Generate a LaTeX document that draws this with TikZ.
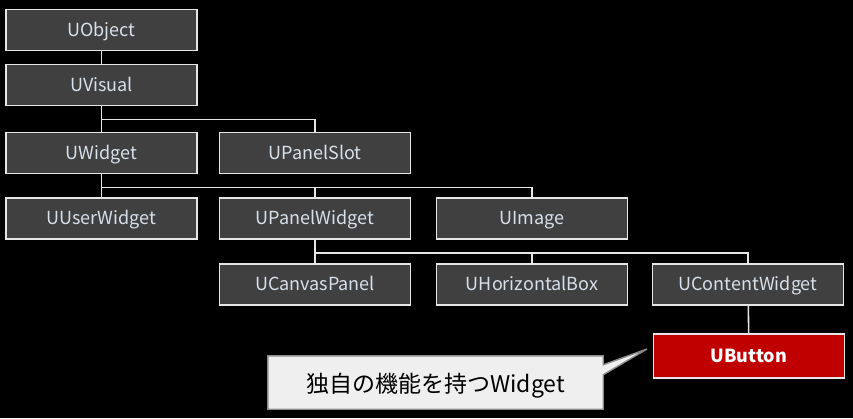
\documentclass[tikz,border=0pt]{standalone}
\usepackage{fontspec}
\setmainfont{Noto Sans CJK JP}
\usetikzlibrary{positioning}
\pgfdeclarelayer{background}
\pgfsetlayers{background,main}
\definecolor{TreeBack}{HTML}{000000}
\definecolor{TreeFill}{HTML}{404040}
\definecolor{TreeEdge}{HTML}{E6E6E6}
\definecolor{TreeText}{HTML}{D8E0EA}
\definecolor{TreeRed}{HTML}{C00000}
\definecolor{NoteFill}{HTML}{EFEFEF}
\definecolor{NoteEdge}{HTML}{8C8C8C}
\tikzset{
  classbox/.style={draw=TreeEdge,fill=TreeFill,line width=1.6pt,
    minimum width=191,minimum height=41,inner sep=0pt,text=TreeText,
    text height=13,text depth=0.3,
    font=\fontsize{18}{21}\selectfont},
  hotbox/.style={classbox,fill=TreeRed,text=white,
    font=\bfseries\fontsize{18}{21}\selectfont},
  link/.style={TreeEdge,line width=1.6pt}
}

\begin{document}
\begin{tikzpicture}[x=1pt,y=-1pt]
        \begin{pgfonlayer}{background}
        \fill[TreeBack] (0,0) rectangle (853,418);
        \end{pgfonlayer}
        \useasboundingbox (0,0) rectangle (853,418);

        % class boxes
        \node[classbox] (obj) at (101.5,30) {UObject};
        \node[classbox] (vis) at (101.5,85) {UVisual};
        \node[classbox] (wid) at (101.5,153) {UWidget};
        \node[classbox] (slot) at (315,153) {UPanelSlot};
        \node[classbox] (user) at (101.5,218.5) {UUserWidget};
        \node[classbox] (panel) at (315,218.5) {UPanelWidget};
        \node[classbox] (img) at (532,218.5) {UImage};
        \node[classbox] (canvas) at (315,284.5) {UCanvasPanel};
        \node[classbox] (hbox) at (532,284.5) {UHorizontalBox};
        \node[classbox] (content) at (748,284.5) {UContentWidget};
        \node[hotbox,minimum height=44] (btn) at (749,356) {UButton};

        % inheritance lines
        \draw[link] (obj) -- (vis);
        \draw[link] (vis) -- (wid);
        \draw[link] (vis.south) ++(0,13) -| (slot.north);
        \draw[link] (wid) -- (user);
        \draw[link] (wid.south) ++(0,13) -| (panel.north);
        \draw[link] (wid.south) ++(0,13) -| (img.north);
        \draw[link] (panel) -- (canvas);
        \draw[link] (panel.south) ++(0,13) -| (hbox.north);
        \draw[link] (panel.south) ++(0,13) -| (content.north);
        \draw[link] (content) -- (btn);

        % callout
        \coordinate (tip) at (647,349);
        \node[minimum width=335,minimum height=53,inner sep=0pt,
          text height=20,text depth=1,
          font=\fontsize{23}{27}\selectfont] (note) at (435.5,382.5)
          {独自の機能を持つWidget};
        \begin{pgfonlayer}{background}
        \filldraw[fill=NoteFill,draw=NoteEdge,line width=1.4pt,line join=miter]
          (note.north west) -- (note.north east)
          -- ([yshift=-9]note.north east) -- (tip)
          -- ([yshift=-19]note.north east) -- (note.south east)
          -- (note.south west) -- cycle;
        \end{pgfonlayer}
      \end{tikzpicture}
\end{document}
